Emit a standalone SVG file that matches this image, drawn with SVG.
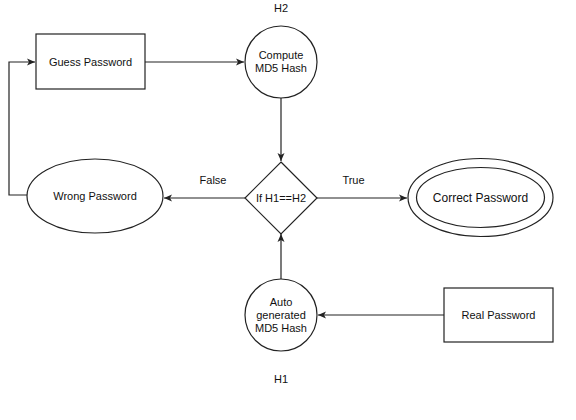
<svg xmlns="http://www.w3.org/2000/svg" width="576" height="420" viewBox="0 0 576 420">
<style>
.s{fill:#fff;stroke:#222;stroke-width:1.2}
.c{fill:none;stroke:#222;stroke-width:1.2}
.t{font-family:"Liberation Sans",Arial,sans-serif;font-size:11px;fill:#111;text-anchor:middle}
.big{font-size:12px}
</style>
<defs>
<marker id="a" markerWidth="10" markerHeight="10" refX="8" refY="4" orient="auto" markerUnits="userSpaceOnUse">
<path d="M0,0.5 L8,4 L0,7.5 L2,4 Z" fill="#222"/>
</marker>
</defs>
<rect width="576" height="420" fill="#fff"/>
<g id="connectors">
<path class="c" d="M145,62 H244" marker-end="url(#a)"/>
<path class="c" d="M281,98 V161" marker-end="url(#a)"/>
<path class="c" d="M245,198 H164" marker-end="url(#a)"/>
<path class="c" d="M317,198 H407" marker-end="url(#a)"/>
<path class="c" d="M281,279 V234" marker-end="url(#a)"/>
<path class="c" d="M444,315 H318" marker-end="url(#a)"/>
<path class="c" d="M27,195 H9 V62 H35" marker-end="url(#a)"/>
</g>
<g id="guess">
<rect class="s" x="36" y="34" width="109" height="55"/>
<text class="t" x="90.5" y="65.5">Guess Password</text>
</g>
<g id="compute">
<circle class="s" cx="281" cy="62" r="36"/>
<text class="t" x="281" y="59">Compute</text>
<text class="t" x="281" y="71.5">MD5 Hash</text>
</g>
<g id="h2"><text class="t" x="281" y="12">H2</text></g>
<g id="decision">
<path class="s" d="M281,162 L317,198 L281,234 L245,198 Z"/>
<text class="t" x="281" y="202">If H1==H2</text>
</g>
<g id="wrong">
<ellipse class="s" cx="95" cy="196" rx="68" ry="37"/>
<text class="t" x="95" y="200">Wrong Password</text>
</g>
<g id="false"><text class="t" x="213" y="184">False</text></g>
<g id="true"><text class="t" x="353.5" y="184">True</text></g>
<g id="correct">
<ellipse class="s" cx="480.5" cy="197.5" rx="72.5" ry="39"/>
<ellipse class="s" cx="480.5" cy="197.5" rx="64" ry="30"/>
<text class="t big" x="480.5" y="202">Correct Password</text>
</g>
<g id="auto">
<circle class="s" cx="281" cy="315" r="36"/>
<text class="t" x="281" y="306">Auto</text>
<text class="t" x="281" y="319">generated</text>
<text class="t" x="281" y="331.5">MD5 Hash</text>
</g>
<g id="h1"><text class="t" x="281" y="383">H1</text></g>
<g id="real">
<rect class="s" x="444" y="288" width="109" height="54"/>
<text class="t" x="498.5" y="319">Real Password</text>
</g>
</svg>
